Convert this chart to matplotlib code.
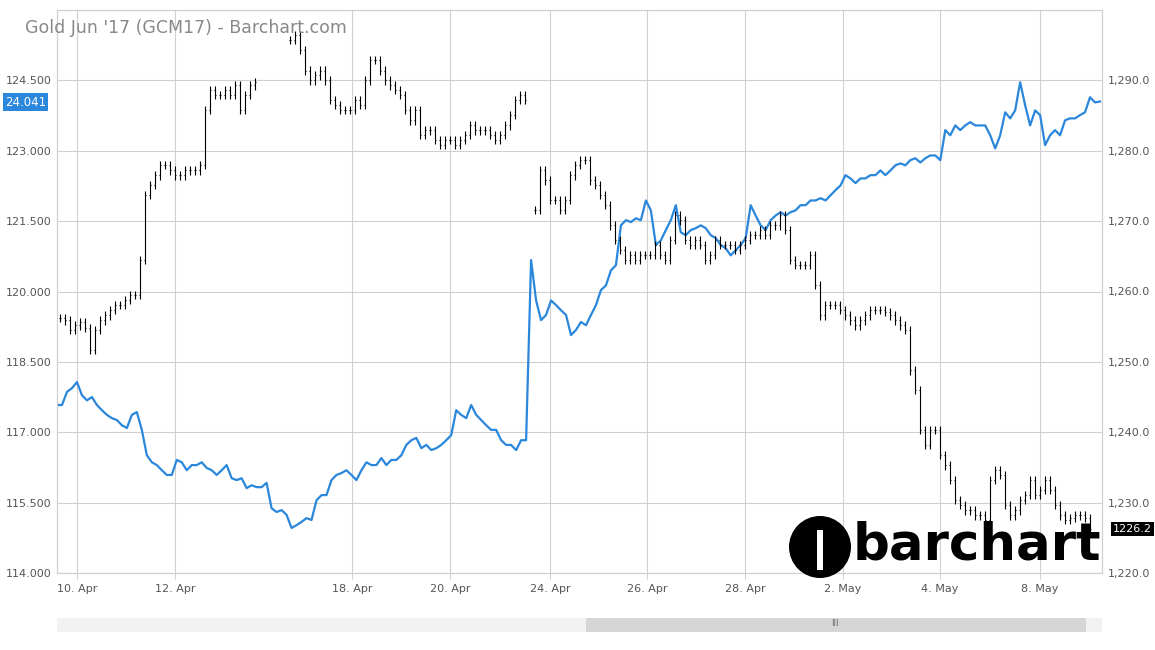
import numpy as np
import matplotlib
matplotlib.use("Agg")
import matplotlib.pyplot as plt
from matplotlib.patches import Ellipse, Rectangle

tick_labels = ["10. Apr", "12. Apr", "18. Apr", "20. Apr", "24. Apr", "26. Apr", "28. Apr", "2. May", "4. May", "8. May"]
tick_pos = [0.0, 2.0, 5.61, 7.61, 9.65, 11.63, 13.63, 15.63, 17.61, 19.65]

gold1 = [1256.2,1255.9,1254.5,1255.2,1255.6,1254.8,1251.7,1254.5,1255.9,1256.6,1257.4,1258.1,1258.1,1258.8,1259.5,1259.5,
         1264.5,1273.7,1275.1,1276.5,1278.0,1278.0,1277.2,1276.5,1276.5,1277.2,1277.2,1277.2,1278.0,1285.8,1288.6,1287.9,
         1287.9,1288.6,1287.9,1289.3,1285.8,1287.9,1289.3,1289.7]
gold2 = [1295.7,1296.4,1294.3,1291.4,1290.0,1290.7,1291.4,1290.0,1287.2,1286.5,1285.8,1285.8,1285.8,1287.2,1286.5,1290.0,
         1292.9,1292.9,1291.4,1290.0,1289.3,1288.6,1287.9,1285.8,1284.3,1285.8,1282.2,1282.9,1282.9,1281.5,1280.8,1281.5,
         1281.5,1280.8,1281.5,1282.2,1283.6,1282.9,1282.9,1282.9,1282.2,1281.5,1282.2,1283.6,1285.1,1287.2,1287.9,1287.2]
gold3 = [1271.6,1277.2,1275.8,1273.0,1273.0,1271.6,1273.0,1276.5,1278.0,1278.7,1278.7,1275.8,1275.1,1273.7,1272.3,1269.4,
         1267.3,1265.9,1264.5,1265.2,1264.5,1265.2,1265.2,1265.2,1266.6,1265.2,1264.5,1267.3,1270.9,1270.1,1267.3,1266.6,
         1267.3,1266.6,1264.5,1265.2,1267.3,1266.6,1266.6,1266.6,1265.9,1266.6,1267.3,1268.0,1268.0,1268.7,1268.0,1269.4,
         1269.4,1270.9,1268.7,1264.5,1263.8,1263.8,1263.8,1265.2,1260.9,1256.6,1258.1,1258.1,1258.1,1257.4,1256.6,1255.9,
         1255.2,1255.9,1256.6,1257.4,1257.4,1257.4,1257.1,1256.6,1255.9,1255.2,1254.5,1248.8,1246.0,1240.3,1238.2,1240.3,
         1240.3,1236.8,1235.3,1233.2,1230.4,1229.7,1228.9,1228.9,1228.2,1228.2,1227.5,1233.2,1234.6,1233.9,1229.7,1228.2,
         1228.9,1230.4,1231.1,1233.2,1231.1,1231.8,1233.2,1231.8,1229.7,1228.2,1227.5,1227.8,1228.2,1228.2,1227.8,1226.2]

blue = [117.58,117.58,117.86,117.94,118.07,117.79,117.68,117.75,117.58,117.47,117.37,117.30,117.26,117.15,117.09,117.37,
        117.43,117.05,116.51,116.36,116.30,116.19,116.09,116.09,116.41,116.36,116.19,116.30,116.30,116.36,116.24,116.19,
        116.09,116.19,116.30,116.02,115.98,116.02,115.81,115.87,115.83,115.83,115.92,115.38,115.30,115.34,115.24,114.96,
        115.02,115.09,115.17,115.13,115.55,115.66,115.66,115.98,116.09,116.13,116.19,116.09,115.98,116.19,116.36,116.30,
        116.30,116.45,116.30,116.41,116.41,116.51,116.73,116.83,116.88,116.66,116.73,116.62,116.66,116.73,116.83,116.94,
        117.47,117.37,117.30,117.58,117.37,117.26,117.15,117.05,117.05,116.83,116.73,116.73,116.62,116.83,116.83,
        120.67,119.81,119.39,119.50,119.81,119.71,119.60,119.50,119.07,119.18,119.35,119.28,119.50,119.71,120.03,120.13,
        120.45,120.56,121.41,121.52,121.48,121.56,121.52,121.94,121.73,120.99,121.09,121.31,121.52,121.84,121.26,121.20,
        121.31,121.35,121.41,121.35,121.20,121.14,120.99,120.92,120.77,120.88,120.99,121.14,121.84,121.62,121.41,121.31,
        121.52,121.62,121.69,121.62,121.69,121.73,121.84,121.84,121.94,121.94,121.99,121.94,122.05,122.16,122.26,122.48,
        122.41,122.31,122.41,122.41,122.48,122.48,122.58,122.48,122.58,122.69,122.73,122.69,122.80,122.84,122.75,122.84,
        122.90,122.90,122.80,123.44,123.33,123.54,123.44,123.54,123.61,123.54,123.54,123.54,123.33,123.05,123.33,123.82,
        123.69,123.86,124.46,123.97,123.54,123.86,123.76,123.12,123.33,123.44,123.33,123.65,123.69,123.69,123.76,123.82,
        124.14,124.03,124.05]

fig = plt.figure(figsize=(11.55, 6.5), dpi=100)
ax = fig.add_axes([57/1155, 77/650, 1045/1155, 563/650])
ax2 = ax.twinx()

def d(px):
    return (px - 77) / 49.0

grid_c = "#d0d0d0"
ax.set_xlim(d(57), d(1102))
ax.set_ylim(114, 126)
ax2.set_ylim(1220, 1300)
ax.set_yticks(np.arange(114, 125.9, 1.5))
ax.set_yticklabels([f"{v:.3f}" for v in np.arange(114, 125.9, 1.5)])
ax2.set_yticks(np.arange(1220, 1291, 10))
ax2.set_yticklabels([f"{v:,.1f}" for v in np.arange(1220, 1291, 10)])
ax.set_xticks(tick_pos)
ax.set_xticklabels(tick_labels)
ax.grid(True, color=grid_c, lw=0.8)
ax.set_axisbelow(True)
for a in (ax, ax2):
    for s in a.spines.values():
        s.set_color(grid_c)
    a.tick_params(colors="#555555", labelsize=8, length=0, pad=4)
ax.tick_params(axis="x", length=4, color=grid_c)

# blue line
bx = np.linspace(d(57), d(1100), len(blue))
ax.plot(bx, blue, color="#2a87db", lw=1.6, zorder=3)

# OHLC bars
for seg, (p0, p1) in zip([gold1, gold2, gold3], [(60, 255), (290, 525), (535, 1090)]):
    xs = np.linspace(d(p0), d(p1), len(seg))
    w = 0.03
    prev = seg[0]
    for x, c in zip(xs, seg):
        o = prev
        hi = max(o, c) + 0.6
        lo = min(o, c) - 0.6
        ax2.vlines(x, lo, hi, color="black", lw=0.8, zorder=4)
        ax2.hlines(o, x - w, x, color="black", lw=0.8, zorder=4)
        ax2.hlines(c, x, x + w, color="black", lw=0.8, zorder=4)
        prev = c

fig.text(25/1155, 1 - 28/650, "Gold Jun '17 (GCM17) - Barchart.com", color="#888888", fontsize=12.5, va="center")

# value tags
fig.text(5/1155, 1 - 102/650, "24.041", color="white", fontsize=8.5, va="center",
         bbox=dict(boxstyle="square,pad=0.2", fc="#2a87db", ec="none"))
fig.text(1113/1155, 1 - 529/650, "1226.2", color="white", fontsize=8, va="center",
         bbox=dict(boxstyle="square,pad=0.15", fc="black", ec="none"))

# logo
fig.patches.append(Ellipse((820/1155, 1 - 547/650), 62/1155, 62/650, transform=fig.transFigure, fc="black",
                           ec="none", zorder=10))
fig.patches.append(Rectangle((817/1155, 1 - 570/650), 6/1155, 40/650, transform=fig.transFigure, fc="white",
                             ec="none", zorder=11))
fig.text(853/1155, 1 - 545/650, "barchart", fontsize=37, fontweight="bold", color="black", va="center",
         family="DejaVu Sans", zorder=12)

# scrollbar
fig.patches.append(Rectangle((57/1155, 1 - 632/650), 1045/1155, 14/650, transform=fig.transFigure,
                             fc="#f2f2f2", ec="none"))
fig.patches.append(Rectangle((586/1155, 1 - 632/650), 500/1155, 14/650, transform=fig.transFigure,
                             fc="#d5d5d5", ec="none"))
fig.text(835/1155, 1 - 624/650, "III", fontsize=6, color="#666666", ha="center", va="center")

fig.savefig("out.png", dpi=100)
